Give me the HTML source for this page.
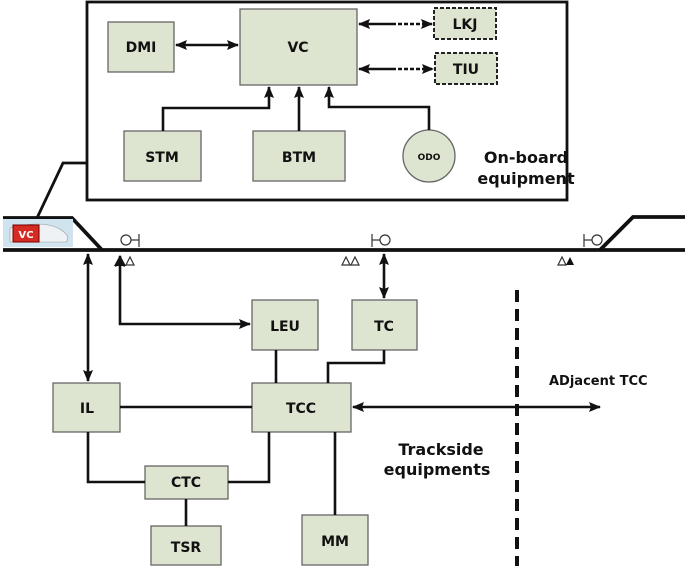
<!DOCTYPE html>
<html><head><meta charset="utf-8"><style>
html,body{margin:0;padding:0;background:#fff;}
svg{display:block;}
text{font-family:"DejaVu Sans","Liberation Sans",sans-serif;font-weight:bold;fill:#111;}
</style></head><body>
<svg width="685" height="566" viewBox="0 0 685 566" xmlns="http://www.w3.org/2000/svg">
<defs>
<marker id="a" markerWidth="12" markerHeight="10" refX="11" refY="5" orient="auto-start-reverse" markerUnits="userSpaceOnUse">
<path d="M0,0 L12,5 L0,10 L2,5 z" fill="#111"/></marker>
</defs>
<g fill="#dde4cf" stroke="#666" stroke-width="1.3">
<rect x="108" y="22" width="66" height="50"/>
<rect x="240" y="9" width="117" height="76"/>
<rect x="124" y="131" width="77" height="50"/>
<rect x="253" y="131" width="92" height="50"/>
<circle cx="429" cy="156" r="26"/>
<rect x="252" y="300" width="66" height="50"/>
<rect x="352" y="300" width="65" height="50"/>
<rect x="53" y="383" width="67" height="49"/>
<rect x="252" y="383" width="99" height="49"/>
<rect x="145" y="466" width="83" height="33"/>
<rect x="151" y="526" width="70" height="39"/>
<rect x="302" y="515" width="66" height="50"/>
</g>
<g fill="#dde4cf" stroke="#222" stroke-width="2" stroke-dasharray="4,2">
<rect x="434" y="8" width="62" height="31"/>
<rect x="435" y="53" width="62" height="31"/>
</g>
<g fill="none" stroke="#111" stroke-width="2.8">
<rect x="87" y="2" width="480" height="198"/>
<polyline points="87,163 63,163 37,218"/>
<line x1="3" y1="250" x2="685" y2="250" stroke-width="3.8"/>
<polyline points="3,218 72,218 102,250" stroke-width="3.8"/>
<polyline points="600,250 633,217 685,217" stroke-width="3.8"/>
</g>
<rect x="3" y="219" width="70" height="28" fill="#cfe4ee"/>
<path d="M10,228 Q40,220 58,228 Q72,236 66,242 L10,242z" fill="#eef2f4" stroke="#999" stroke-width="0.6"/>
<rect x="13" y="225" width="26" height="17" fill="#d62b22" stroke="#700" stroke-width="1"/>
<text x="26" y="238" font-size="10" text-anchor="middle" fill="#fff" style="fill:#fff">VC</text>
<g fill="none" stroke="#111" stroke-width="2.6">
<line x1="176" y1="45" x2="238" y2="45" marker-start="url(#a)" marker-end="url(#a)"/>
<line x1="359" y1="24" x2="392" y2="24" marker-start="url(#a)"/>
<line x1="392" y1="24" x2="432" y2="24" stroke-dasharray="4,2" marker-end="url(#a)"/>
<line x1="359" y1="69" x2="392" y2="69" marker-start="url(#a)"/>
<line x1="392" y1="69" x2="433" y2="69" stroke-dasharray="4,2" marker-end="url(#a)"/>
<polyline points="163,131 163,108 269,108 269,87" marker-end="url(#a)"/>
<line x1="299" y1="131" x2="299" y2="87" marker-end="url(#a)"/>
<polyline points="429,130 429,107 329,107 329,87" marker-end="url(#a)"/>
<line x1="88" y1="254" x2="88" y2="381" marker-start="url(#a)" marker-end="url(#a)"/>
<polyline points="250,324 120,324 120,256" marker-start="url(#a)" marker-end="url(#a)"/>
<line x1="384" y1="254" x2="384" y2="298" marker-start="url(#a)" marker-end="url(#a)"/>
<line x1="276" y1="350" x2="276" y2="383"/>
<polyline points="384,350 384,363 328,363 328,383"/>
<line x1="120" y1="407" x2="252" y2="407"/>
<line x1="353" y1="407" x2="600" y2="407" marker-start="url(#a)" marker-end="url(#a)"/>
<polyline points="88,432 88,482 145,482"/>
<polyline points="228,482 269,482 269,432"/>
<line x1="186" y1="499" x2="186" y2="526"/>
<line x1="335" y1="432" x2="335" y2="515"/>
<line x1="517" y1="290" x2="517" y2="566" stroke-width="4" stroke-dasharray="12,7"/>
</g>
<g fill="none" stroke="#333" stroke-width="1.2">
<circle cx="126" cy="240" r="5"/><line x1="131" y1="240" x2="139" y2="240"/><line x1="139" y1="234" x2="139" y2="247"/>
<circle cx="385" cy="240" r="5"/><line x1="372" y1="240" x2="380" y2="240"/><line x1="372" y1="234" x2="372" y2="247"/>
<circle cx="597" cy="240" r="5"/><line x1="584" y1="240" x2="592" y2="240"/><line x1="584" y1="234" x2="584" y2="247"/>
<path d="M126,265 L130,257 L134,265z"/>
<path d="M342,265 L346,257 L350,265z"/><path d="M351,265 L355,257 L359,265z"/>
<path d="M558,265 L562,257 L566,265z"/>
</g>
<path d="M114,266 L120,255 L126,266z" fill="#111"/>
<path d="M566,265 L570,257 L574,265z" fill="#111"/>
<g font-size="14" text-anchor="middle">
<text x="141" y="52">DMI</text>
<text x="298" y="52">VC</text>
<text x="465" y="29">LKJ</text>
<text x="466" y="74">TIU</text>
<text x="162" y="162">STM</text>
<text x="299" y="162">BTM</text>
<text x="429" y="160" font-size="9">ODO</text>
<text x="285" y="331">LEU</text>
<text x="384" y="331">TC</text>
<text x="87" y="413">IL</text>
<text x="301" y="413">TCC</text>
<text x="186" y="487">CTC</text>
<text x="186" y="552">TSR</text>
<text x="335" y="546">MM</text>
</g>
<g font-size="16" text-anchor="middle">
<text x="526" y="163">On-board</text>
<text x="526" y="184">equipment</text>
<text x="441" y="455">Trackside</text>
<text x="437" y="475">equipments</text>
</g>
<text x="549" y="385" font-size="13">ADjacent TCC</text>
</svg>
</body></html>
